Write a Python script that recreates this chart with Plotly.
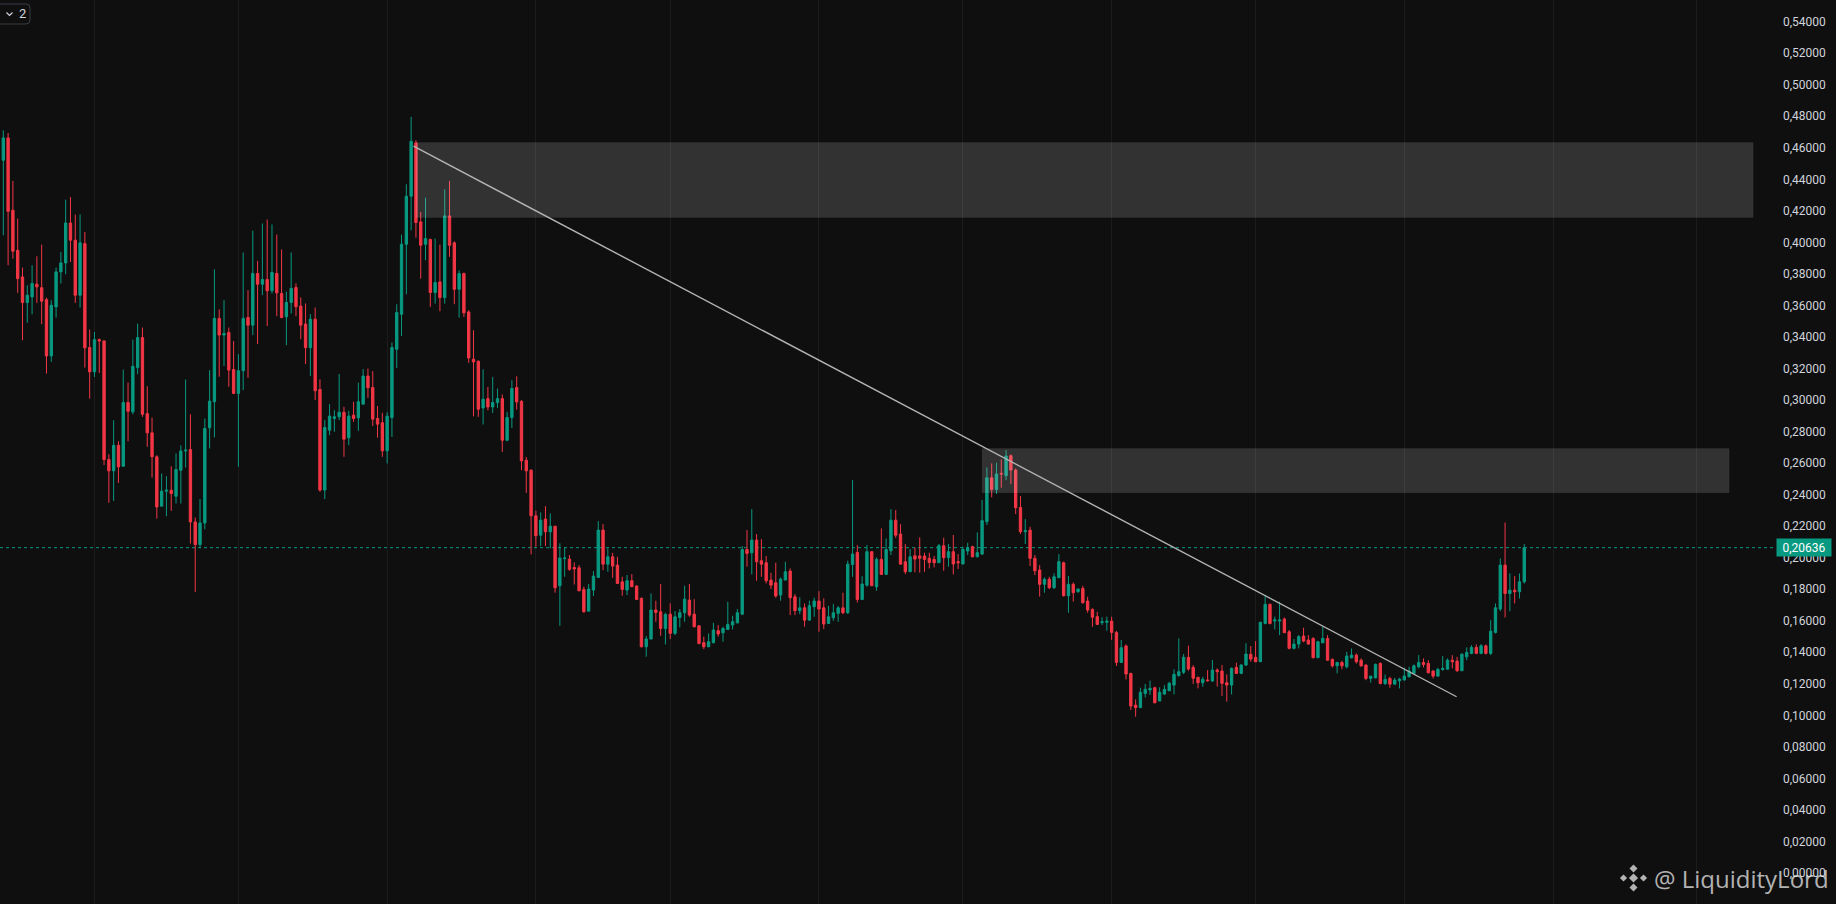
import plotly.graph_objects as go
import pandas as pd

# ---------------- data (daily OHLC) ----------------
start_date = "2024-10-13"

open_ = [
    .4521, .4663, .4204, .3950, .3781, .3618, .3654, .3735, .3713, .3637,
    .3280, .3591, .3813, .3870, .4123, .4014, .3665, .3992, .3333, .3179,
    .3383, .3375, .2623, .2551, .2713, .2580, .2984, .2925, .3206, .3396,
    .2914, .2792, .2640, .2327, .2422, .2428, .2390, .2555, .2677, .2686,
    .2227, .2083, .2220, .2824, .2989, .3518, .3412, .3429, .3194, .3042,
    .3186, .3524, .3475, .3803, .3735, .3765, .3693, .3803, .3676, .3528,
    .3619, .3714, .3596, .3482, .3332, .3513, .3067, .2429, .2809, .2883,
    .2894, .2923, .2761, .2904, .2887, .2974, .3152, .3080, .2883, .2856,
    .2678, .2889, .3322, .3544, .3988, .4293, .4631, .4130, .3988, .4018,
    .3682, .3749, .3650, .4168, .3997, .3703, .3802, .3559, .3259, .3246,
    .2950, .3009, .2956, .2984, .3009, .2745, .2889, .3079, .2992, .2618,
    .2555, .2266, .2143, .2245, .2164, .2200, .1822, .1994, .1991, .1938,
    .1936, .1799, .1661, .1795, .1875, .2175, .1959, .2006, .1953, .1847,
    .1795, .1854, .1820, .1742, .1435, .1484, .1668, .1657, .1551, .1642,
    .1520, .1621, .1651, .1731, .1642, .1568, .1461, .1435, .1461, .1537,
    .1524, .1545, .1573, .1587, .1642, .2052, .2031, .2112, .1981, .1968,
    .1858, .1841, .1763, .1858, .1915, .1752, .1664, .1682, .1604, .1689,
    .1725, .1682, .1583, .1619, .1647, .1682, .1651, .1957, .2033, .1735,
    .1826, .2038, .1816, .1989, .1894, .2044, .2238, .2150, .1974, .1911,
    .2012, .2011, .2011, .1996, .1989, .1968, .2076, .2000, .2038, .1975,
    .1960, .2042, .2070, .2006, .2023, .2228, .2507, .2433, .2535, .2520,
    .2647, .2556, .2319, .2165, .2175, .1996, .1922, .1831, .1863, .1810,
    .1873, .1968, .1759, .1831, .1784, .1805, .1725, .1672, .1626, .1588,
    .1590, .1598, .1526, .1336, .1440, .1266, .1065, .1049, .1139, .1161,
    .1175, .1091, .1135, .1156, .1192, .1252, .1273, .1368, .1304, .1241,
    .1207, .1224, .1218, .1287, .1281, .1207, .1192, .1304, .1266, .1319,
    .1387, .1368, .1340, .1583, .1704, .1599, .1598, .1611, .1530, .1425,
    .1452, .1503, .1478, .1488, .1367, .1460, .1488, .1355, .1314, .1335,
    .1308, .1365, .1382, .1350, .1319, .1234, .1238, .1329, .1202, .1234,
    .1198, .1219, .1224, .1245, .1266, .1308, .1335, .1329, .1281, .1249,
    .1291, .1293, .1350, .1344, .1283, .1371, .1393, .1431, .1393, .1441,
    .1393, .1526, .1674, .1953, .1773, .1794, .1784, .1847,
]

high = [
    .4711, .4694, .4390, .4151, .3840, .3728, .3855, .3912, .3986, .3650,
    .3633, .3840, .3940, .4271, .4288, .4176, .4178, .4066, .3447, .3432,
    .3390, .3379, .2656, .2872, .2739, .3193, .3111, .3383, .3485, .3460,
    .3088, .2889, .2650, .2534, .2517, .2580, .2661, .2713, .3130, .2910,
    .2255, .2372, .2883, .3190, .3828, .3575, .3634, .3460, .3374, .3291,
    .3936, .3697, .4074, .3883, .4120, .4145, .4114, .4050, .3955, .3687,
    .3936, .3740, .3651, .3613, .3545, .3587, .3131, .2873, .2974, .2936,
    .3165, .2957, .2932, .2989, .3110, .3196, .3200, .3184, .2962, .2919,
    .2923, .3365, .3608, .4049, .4369, .4796, .4648, .4193, .4284, .4024,
    .4024, .3986, .4337, .4390, .4007, .3823, .3809, .3570, .3443, .3252,
    .3195, .3083, .3147, .3073, .3035, .2925, .3126, .3151, .2999, .2639,
    .2561, .2298, .2287, .2327, .2281, .2200, .2091, .2065, .2017, .1970,
    .1953, .1816, .1833, .1915, .2232, .2213, .2059, .2031, .2006, .1879,
    .1890, .1896, .1826, .1748, .1503, .1773, .1727, .1833, .1651, .1710,
    .1661, .1674, .1822, .1833, .1737, .1573, .1499, .1520, .1587, .1573,
    .1562, .1721, .1632, .1674, .2074, .2175, .2308, .2150, .2118, .2010,
    .1904, .1968, .1875, .1974, .1932, .1769, .1748, .1710, .1727, .1746,
    .1788, .1742, .1695, .1706, .1693, .1778, .1981, .2492, .2080, .1883,
    .2080, .2038, .2002, .2186, .2122, .2308, .2302, .2213, .2086, .2055,
    .2065, .2129, .2032, .2032, .2011, .2087, .2127, .2087, .2144, .2023,
    .2070, .2095, .2076, .2161, .2366, .2573, .2598, .2602, .2624, .2683,
    .2655, .2566, .2391, .2245, .2196, .2017, .1953, .1875, .1879, .1901,
    .2023, .1975, .1884, .1843, .1805, .1822, .1752, .1679, .1657, .1622,
    .1626, .1626, .1535, .1478, .1450, .1270, .1101, .1175, .1199, .1220,
    .1182, .1178, .1192, .1213, .1292, .1488, .1389, .1442, .1319, .1245,
    .1245, .1287, .1351, .1298, .1319, .1260, .1304, .1334, .1325, .1457,
    .1440, .1471, .1594, .1763, .1710, .1626, .1721, .1621, .1541, .1484,
    .1509, .1556, .1509, .1495, .1473, .1562, .1509, .1361, .1340, .1346,
    .1403, .1424, .1393, .1361, .1323, .1249, .1329, .1336, .1259, .1245,
    .1238, .1238, .1302, .1308, .1323, .1382, .1361, .1350, .1287, .1302,
    .1376, .1361, .1382, .1371, .1393, .1431, .1445, .1450, .1452, .1450,
    .1604, .1710, .1995, .2223, .1900, .1883, .1900, .2086,
]

low = [
    .4045, .3855, .3897, .3680, .3379, .3491, .3544, .3616, .3481, .3168,
    .3242, .3523, .3739, .3798, .3876, .3616, .3587, .3206, .3009, .3147,
    .3172, .2587, .2348, .2360, .2474, .2580, .2739, .2910, .3164, .2893,
    .2703, .2508, .2248, .2327, .2263, .2297, .2344, .2344, .2572, .2090,
    .1783, .2060, .2180, .2693, .2763, .3148, .3217, .3084, .3038, .2577,
    .3063, .3141, .3412, .3355, .3666, .3469, .3676, .3532, .3518, .3348,
    .3549, .3532, .3386, .3228, .3152, .3000, .2418, .2372, .2778, .2799,
    .2873, .2640, .2714, .2862, .2805, .2974, .3014, .2835, .2761, .2640,
    .2598, .2766, .3204, .3407, .3671, .4077, .4030, .3770, .3887, .3591,
    .3612, .3563, .3612, .3908, .3608, .3523, .3527, .3236, .2897, .2893,
    .2845, .2935, .2918, .2950, .2671, .2739, .2823, .2940, .2555, .2411,
    .2021, .2069, .2074, .2074, .2059, .1778, .1568, .1879, .1917, .1830,
    .1788, .1651, .1661, .1757, .1875, .1921, .1911, .1873, .1833, .1759,
    .1763, .1816, .1731, .1431, .1372, .1484, .1594, .1505, .1450, .1484,
    .1509, .1558, .1594, .1625, .1558, .1450, .1420, .1435, .1456, .1499,
    .1467, .1545, .1545, .1583, .1636, .1943, .1894, .1854, .1879, .1837,
    .1801, .1746, .1727, .1858, .1636, .1636, .1642, .1562, .1604, .1625,
    .1530, .1547, .1579, .1600, .1594, .1642, .1642, .1879, .1716, .1731,
    .1816, .1822, .1790, .1894, .1894, .2017, .2126, .1959, .1896, .1911,
    .1907, .1905, .1911, .1932, .1939, .1968, .1917, .1943, .1894, .1928,
    .1960, .2017, .2002, .2002, .2017, .2207, .2383, .2404, .2444, .2492,
    .2467, .2277, .2150, .2087, .1947, .1890, .1753, .1778, .1801, .1801,
    .1873, .1753, .1651, .1721, .1778, .1710, .1651, .1562, .1573, .1573,
    .1537, .1478, .1313, .1334, .1228, .1034, .0991, .1049, .1114, .1129,
    .1076, .1091, .1129, .1154, .1133, .1245, .1262, .1283, .1199, .1171,
    .1182, .1213, .1213, .1182, .1123, .1087, .1133, .1266, .1262, .1313,
    .1340, .1340, .1340, .1577, .1577, .1545, .1509, .1524, .1418, .1418,
    .1425, .1463, .1450, .1361, .1361, .1460, .1346, .1304, .1266, .1293,
    .1298, .1361, .1329, .1308, .1223, .1207, .1234, .1196, .1192, .1175,
    .1196, .1171, .1224, .1240, .1262, .1298, .1304, .1266, .1234, .1245,
    .1283, .1291, .1298, .1276, .1283, .1350, .1388, .1388, .1388, .1386,
    .1382, .1519, .1661, .1621, .1661, .1710, .1741, .1836,
]

close = [
    .4663, .4197, .3944, .3770, .3618, .3665, .3739, .3718, .3627, .3280,
    .3601, .3813, .3870, .4123, .4014, .3665, .3997, .3331, .3179, .3383,
    .3375, .2623, .2551, .2713, .2576, .2984, .2929, .3214, .3396, .2910,
    .2792, .2640, .2322, .2422, .2428, .2407, .2559, .2677, .2682, .2227,
    .2083, .2220, .2820, .2993, .3518, .3412, .3422, .3190, .3042, .3186,
    .3518, .3475, .3803, .3735, .3765, .3693, .3809, .3680, .3524, .3619,
    .3708, .3592, .3475, .3332, .3513, .3059, .2429, .2826, .2898, .2894,
    .2923, .2752, .2898, .2883, .2989, .3152, .3078, .2879, .2847, .2678,
    .2898, .3333, .3555, .3988, .4293, .4641, .4126, .3982, .4024, .3682,
    .3745, .3650, .4168, .3982, .3703, .3802, .3553, .3267, .3242, .2942,
    .3005, .2956, .2984, .3009, .2745, .2889, .3073, .2988, .2614, .2551,
    .2266, .2139, .2238, .2164, .2200, .1809, .1998, .1998, .1926, .1928,
    .1790, .1657, .1801, .1883, .2175, .1959, .2006, .1947, .1837, .1799,
    .1854, .1816, .1735, .1435, .1484, .1668, .1653, .1551, .1640, .1520,
    .1625, .1651, .1737, .1636, .1562, .1456, .1435, .1467, .1541, .1516,
    .1551, .1577, .1594, .1651, .2052, .2027, .2112, .1974, .1959, .1854,
    .1826, .1757, .1864, .1911, .1746, .1664, .1682, .1604, .1695, .1725,
    .1674, .1579, .1625, .1651, .1682, .1651, .1959, .2023, .1735, .1833,
    .2038, .1822, .1989, .1894, .2052, .2238, .2143, .1959, .1911, .2006,
    .1991, .1996, .1989, .1970, .1968, .2076, .2000, .2038, .1960, .1968,
    .2053, .2063, .2006, .2032, .2235, .2507, .2433, .2531, .2531, .2645,
    .2556, .2317, .2165, .2171, .1996, .1917, .1831, .1863, .1810, .1879,
    .1975, .1759, .1831, .1778, .1801, .1714, .1668, .1622, .1577, .1594,
    .1598, .1526, .1336, .1429, .1262, .1059, .1049, .1146, .1165, .1171,
    .1080, .1146, .1165, .1203, .1260, .1277, .1368, .1294, .1235, .1207,
    .1228, .1220, .1287, .1277, .1203, .1192, .1298, .1266, .1319, .1389,
    .1357, .1340, .1590, .1704, .1583, .1605, .1605, .1524, .1425, .1452,
    .1499, .1471, .1452, .1366, .1467, .1488, .1350, .1314, .1335, .1314,
    .1376, .1382, .1340, .1314, .1234, .1249, .1323, .1202, .1228, .1198,
    .1224, .1230, .1249, .1281, .1314, .1335, .1323, .1270, .1249, .1291,
    .1298, .1350, .1340, .1283, .1388, .1399, .1431, .1393, .1441, .1393,
    .1534, .1682, .1953, .1773, .1794, .1784, .1847, .20636,
]

last_price = 0.20636
last_price_label = "0,20636"

# supply / resistance zones: (first bar index, right end in bars, top, bottom)
zone_start_bar = [86, 204]
zone_end_bar = [364.7, 359.7]
zone_top = [0.4633, 0.2693]
zone_bottom = [0.4158, 0.2412]

# descending trend line: (bar position, price)
trend_bar = [85.5, 302.9]
trend_price = [0.4610, 0.1118]

y_ticks = [round(-0.02 + 0.02 * i, 2) for i in range(29)]

watermark = "@ LiquidityLord"
badge_text = "2"

# ---------------- layout helpers ----------------
W, H = 1836, 904
PLOT_W = 1776  # plot area width in px (right margin holds the price scale)
BAR_PX = 4.798
FIRST_BAR_PX = 3.3

dates = pd.date_range(start_date, periods=len(close), freq="D")
t0 = pd.Timestamp(start_date)


def bar_to_date(b):
    return (t0 + pd.Timedelta(days=b)).strftime("%Y-%m-%d %H:%M:%S")


x_start = t0 - pd.Timedelta(days=FIRST_BAR_PX / BAR_PX)
x_end = x_start + pd.Timedelta(days=PLOT_W / BAR_PX)


def px(xp):
    return xp / PLOT_W


def py(yp):
    return 1 - yp / H


BG = "#0f0f0f"
UP = "#089981"
DOWN = "#f23645"
TXT = "#d1d4dc"

fig = go.Figure()

fig.add_trace(go.Candlestick(
    x=dates, open=open_, high=high, low=low, close=close,
    increasing=dict(line=dict(color=UP, width=1), fillcolor=UP),
    decreasing=dict(line=dict(color=DOWN, width=1), fillcolor=DOWN),
    whiskerwidth=0,
    hoverinfo="skip",
    showlegend=False,
))

shapes = []
# current price dotted line
shapes.append(dict(type="line", xref="paper", yref="y", x0=0, x1=1,
                   y0=last_price, y1=last_price,
                   line=dict(color=UP, width=1, dash="dot"), layer="below"))
# zones
for s, e, t, b in zip(zone_start_bar, zone_end_bar, zone_top, zone_bottom):
    shapes.append(dict(type="rect", xref="x", yref="y",
                       x0=bar_to_date(s), x1=bar_to_date(e), y0=b, y1=t,
                       fillcolor="rgba(255,255,255,0.15)",
                       line=dict(color="rgba(255,255,255,0.04)", width=1),
                       layer="above"))
# trend line
shapes.append(dict(type="line", xref="x", yref="y",
                   x0=bar_to_date(trend_bar[0]), y0=trend_price[0],
                   x1=bar_to_date(trend_bar[1]), y1=trend_price[1],
                   line=dict(color="#b4b4b4", width=1.4), layer="above"))

# top-left badge (rounded box + chevron)
bx0, bx1, by0, by1, r = -2, 30, 4, 24, 4
badge_path = (f"M {px(bx0)},{py(by0)} L {px(bx1 - r)},{py(by0)} "
              f"Q {px(bx1)},{py(by0)} {px(bx1)},{py(by0 + r)} "
              f"L {px(bx1)},{py(by1 - r)} Q {px(bx1)},{py(by1)} {px(bx1 - r)},{py(by1)} "
              f"L {px(bx0)},{py(by1)}")
shapes.append(dict(type="path", xref="paper", yref="paper", path=badge_path,
                   line=dict(color="#3a3d45", width=1)))
chev = f"M {px(6.5)},{py(12.5)} L {px(9.5)},{py(15.5)} L {px(12.5)},{py(12.5)}"
shapes.append(dict(type="path", xref="paper", yref="paper", path=chev,
                   line=dict(color=TXT, width=1.2)))

# Binance-like logo made of diamonds next to the watermark
logo_cx, logo_cy = 1633.5, 878
wm_col = "rgba(225,225,225,0.78)"
for dx, dy, hs in [(0, 0, 4.6), (0, -9.5, 4.0), (0, 9.5, 4.0), (-10, 0, 3.6), (10, 0, 3.6)]:
    cx, cy = logo_cx + dx, logo_cy + dy
    path = (f"M {px(cx)},{py(cy - hs)} L {px(cx + hs)},{py(cy)} "
            f"L {px(cx)},{py(cy + hs)} L {px(cx - hs)},{py(cy)} Z")
    shapes.append(dict(type="path", xref="paper", yref="paper", path=path,
                       fillcolor=wm_col, line=dict(width=0)))

annotations = [
    dict(xref="paper", yref="y", x=1.0, y=last_price, xanchor="left", yanchor="middle",
         text=last_price_label, showarrow=False, bgcolor=UP, width=52, height=15,
         align="center", borderpad=1,
         font=dict(family="Roboto", size=12, color="#ffffff")),
    dict(xref="paper", yref="paper", x=px(1652), y=py(878), xanchor="left", yanchor="middle",
         text=watermark, showarrow=False,
         font=dict(family="Open Sans", size=24, color=wm_col)),
    dict(xref="paper", yref="paper", x=px(22.5), y=py(14), xanchor="center", yanchor="middle",
         text=badge_text, showarrow=False,
         font=dict(family="Roboto", size=13, color=TXT)),
]

fig.update_layout(
    width=W, height=H,
    margin=dict(l=0, r=W - PLOT_W, t=0, b=0),
    paper_bgcolor=BG, plot_bgcolor=BG,
    separators=", ",
    showlegend=False,
    hovermode=False,
    shapes=shapes,
    annotations=annotations,
    xaxis=dict(
        type="date",
        range=[x_start.strftime("%Y-%m-%d %H:%M:%S"), x_end.strftime("%Y-%m-%d %H:%M:%S")],
        rangeslider=dict(visible=False),
        showgrid=True, gridcolor="rgba(255,255,255,0.055)", gridwidth=1,
        dtick="M1", tick0="2024-11-01",
        showticklabels=False, zeroline=False, showline=False, ticks="",
        fixedrange=True,
    ),
    yaxis=dict(
        side="right",
        range=[-31 / 1576.5, 873 / 1576.5],
        tickvals=y_ticks,
        tickformat=".5f",
        showgrid=False, zeroline=False, showline=False, ticks="",
        ticklabelstandoff=6,
        tickfont=dict(family="Roboto", size=12, color=TXT),
        fixedrange=True,
    ),
)

fig.write_html("out.html", config={"displayModeBar": False, "staticPlot": True},
               post_script="document.body.style.margin='0px';document.body.style.overflow='hidden';")
